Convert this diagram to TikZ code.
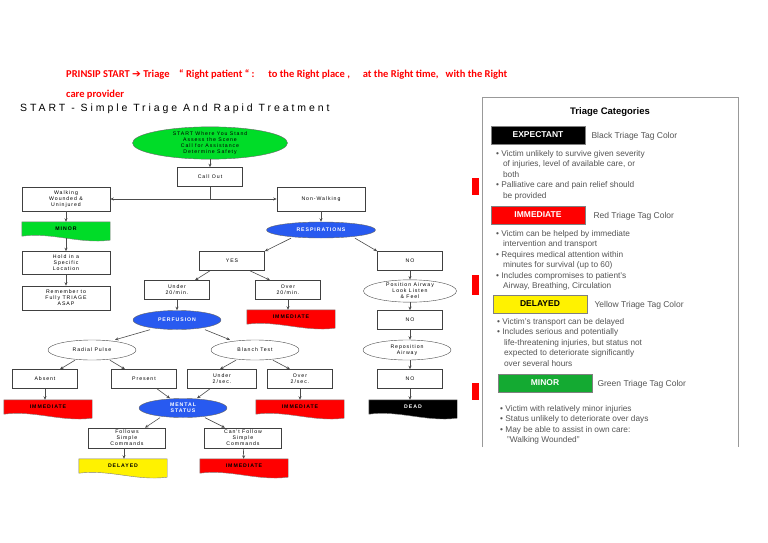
\documentclass[tikz,border=0pt]{standalone}
\usepackage{fontspec}
\setmainfont{Liberation Sans}
\newfontfamily\flow[LetterSpace=18]{Liberation Sans}
\newfontfamily\ttl[LetterSpace=28]{Liberation Sans}
\newfontfamily\hdr{Carlito}
\newfontfamily\dju{DejaVu Sans}
\usetikzlibrary{arrows.meta,calc,shapes.geometric}
\definecolor{bgreen}{RGB}{0,220,40}
\definecolor{bblue}{RGB}{40,90,240}
\definecolor{tgreen}{RGB}{20,170,50}
\definecolor{ptxt}{RGB}{85,85,85}
\tikzset{
 fbox/.style={draw=black!75,fill=white,minimum width=65pt,minimum height=19pt,inner sep=1pt,align=center,font=\flow\fontsize{5.2}{6}\selectfont,line width=0.6pt},
 fell/.style={draw=black!70,ellipse,fill=white,minimum width=88pt,minimum height=20pt,inner sep=0pt,align=center,font=\flow\fontsize{5.2}{6}\selectfont},
 bell/.style={draw=black!60,ellipse,fill=bblue,text=white,minimum width=88pt,minimum height=19pt,inner sep=0pt,align=center,font=\flow\bfseries\fontsize{5.2}{6}\selectfont},
 bannbox/.style={minimum width=88pt,minimum height=16pt,inner sep=0pt},
 bantxt/.style={font=\flow\bfseries\fontsize{5.2}{6}\selectfont},
 arr/.style={-{Stealth[length=3.5pt,width=3pt]},draw=black!70,line width=0.6pt},
 ln/.style={draw=black!70,line width=0.6pt},
 tag/.style={draw=black!50,minimum width=94pt,minimum height=18pt,inner sep=0pt,font=\bfseries\fontsize{8.5}{9}\selectfont},
 tagc/.style={anchor=west,text=ptxt,font=\fontsize{8.5}{10}\selectfont},
 bul/.style={anchor=north west,text=ptxt,align=left,inner sep=0pt,font=\fontsize{8.3}{10.5}\selectfont},
}
\newcommand{\banner}[5]{%
 \node[bannbox] (#1) at (#2) {};
 \filldraw[fill=#3,draw=black!50] (#1.north west) -- (#1.north east) -- ([yshift=-2pt]#1.south east)
   .. controls ($(#1.south east)!0.35!(#1.south west)+(0,6)$) and ($(#1.south east)!0.65!(#1.south west)+(0,-6)$) .. ([yshift=2pt]#1.south west) -- cycle;
 \node[bantxt,text=#4] (#1-t) at ([yshift=1pt]#1.center) {#5};}
\begin{document}
\begin{tikzpicture}[x=1pt,y=-1pt]
\useasboundingbox[fill=white] (0,0) rectangle (768,543);
% header
\node[anchor=west,text=red,font=\hdr\bfseries\fontsize{10.5}{12}\selectfont,inner sep=0pt] (h1) at (66,75) {PRINSIP START {\dju ➔} Triage ~ \ “ Right patient “ : \quad to the Right place , \quad at the Right time, \ \ with the Right};
\node[anchor=west,text=red,font=\hdr\bfseries\fontsize{10.5}{12}\selectfont,inner sep=0pt] (h2) at (66,95) {care provider};
\node[anchor=west,inner sep=0pt,font=\ttl\fontsize{10.5}{12}\selectfont] (title) at (20,109) {START - Simple Triage And Rapid Treatment};
% flowchart
\node[draw=black!60,ellipse,fill=bgreen,minimum width=155pt,minimum height=30pt,inner sep=0pt,align=center,font=\flow\fontsize{5.2}{6}\selectfont] (start) at (210,143) {START Where You Stand\\Assess the Scene\\Call for Assistance\\Determine Safety};
\node[fbox] (call) at (210,177) {Call Out};
\node[fbox,minimum width=88pt,minimum height=24pt] (walk) at (66,199) {Walking\\Wounded \&\\Uninjured};
\node[fbox,minimum width=88pt,minimum height=24pt] (nonw) at (321,199) {Non-Walking};
\banner{minor}{66,230}{bgreen}{black}{MINOR}
\node[bell,minimum width=109pt,minimum height=16pt] (resp) at (321,230) {RESPIRATIONS};
\node[fbox,minimum width=88pt,minimum height=23pt] (hold) at (66,263) {Hold in a\\Specific\\Location};
\node[fbox] (yes) at (232,261) {YES};
\node[fbox] (no1) at (410,261) {NO};
\node[fbox,minimum width=88pt,minimum height=24pt] (rem) at (66,298) {Remember to\\Fully TRIAGE\\ASAP};
\node[fbox] (u20) at (177,290) {Under\\20/min.};
\node[fbox] (o20) at (288,290) {Over\\20/min.};
\node[fell,minimum width=93pt] (pos) at (410,291) {Position Airway\\Look Listen\\\& Feel};
\node[bell] (perf) at (177,320) {PERFUSION};
\banner{imm1}{291,318}{red}{black}{IMMEDIATE}
\node[fbox] (no2) at (410,320) {NO};
\node[fell] (radial) at (92,350) {Radial Pulse};
\node[fell] (blanch) at (255,350) {Blanch Test};
\node[fell] (repos) at (407,350) {Reposition\\Airway};
\node[fbox] (absent) at (45,379) {Absent};
\node[fbox] (present) at (144,379) {Present};
\node[fbox,minimum width=69pt] (u2) at (222,379) {Under\\2/sec.};
\node[fbox] (o2) at (300,379) {Over\\2/sec.};
\node[fbox] (no3) at (410,379) {NO};
\banner{imm2}{48,408}{red}{black}{IMMEDIATE}
\node[bell] (mental) at (183,408) {MENTAL\\STATUS};
\banner{imm3}{300,408}{red}{black}{IMMEDIATE}
\banner{dead}{413,408}{black}{white}{DEAD}
\node[fbox,minimum width=77pt,minimum height=20pt] (follow) at (127,438) {Follows\\Simple\\Commands};
\node[fbox,minimum width=77pt,minimum height=20pt] (cant) at (243,438) {Can't Follow\\Simple\\Commands};
\banner{delayed}{123,467}{yellow}{black}{DELAYED}
\banner{imm4}{244,467}{red}{black}{IMMEDIATE}
% connectors
\draw[arr] (start) -- (call);
\coordinate (split) at (call.south |- walk.east);
\draw[ln] (call.south) -- (split);
\draw[arr] (split) -- (walk.east);
\draw[arr] (split) -- (nonw.west);
\draw[arr] (walk) -- (minor);
\draw[arr] (minor) -- (hold);
\draw[arr] (hold) -- (rem);
\draw[arr] (nonw) -- (resp);
\draw[arr] ([xshift=-30pt]resp.south) -- (yes.north east);
\draw[arr] ([xshift=34pt]resp.south) -- (no1.north west);
\draw[arr] ([xshift=-22pt]yes.south) -- ([xshift=18pt]u20.north);
\draw[arr] ([xshift=18pt]yes.south) -- ([xshift=-18pt]o20.north);
\draw[arr] (no1) -- (pos);
\draw[arr] (u20) -- (perf);
\draw[arr] (o20.south) -- ([xshift=-3pt]imm1.north);
\draw[arr] (pos) -- (no2);
\draw[arr] (no2) -- (repos.north -| no2);
\draw[arr] (repos.south -| no3) -- (no3);
\draw[arr] (no3) -- ([xshift=-3pt]dead.north);
\draw[arr] ([xshift=-27pt]perf.south) -- ([xshift=23pt]radial.north);
\draw[arr] ([xshift=28pt]perf.south) -- ([xshift=-25pt]blanch.north);
\draw[arr] ([xshift=-17pt]radial.south) -- ([xshift=15pt]absent.north);
\draw[arr] ([xshift=18pt]radial.south) -- ([xshift=-19pt]present.north);
\draw[arr] ([xshift=-19pt]blanch.south) -- ([xshift=-2pt]u2.north);
\draw[arr] ([xshift=18pt]blanch.south) -- ([xshift=-10pt]o2.north);
\draw[arr] (absent) -- ([xshift=-3pt]imm2.north);
\draw[arr] ([xshift=13pt]present.south) -- ([xshift=-13pt]mental.north);
\draw[arr] ([xshift=-12pt]u2.south) -- ([xshift=14pt]mental.north);
\draw[arr] (o2) -- (imm3);
\draw[arr] ([xshift=-23pt]mental.south) -- ([xshift=18pt]follow.north);
\draw[arr] ([xshift=22pt]mental.south) -- ([xshift=-18pt]cant.north);
\draw[arr] ([xshift=-3pt]follow.south) -- ([xshift=1pt]delayed.north);
\draw[arr] (cant) -- (imm4);
% red markers
\fill[red] (472,178) rectangle (479,195);
\fill[red] (472,275) rectangle (479,295);
\fill[red] (472,383) rectangle (479,400);
% panel
\draw[black!40,line width=0.6pt] (482,447) -- (482,97) -- (738,97) -- (738,447);
\node[font=\bfseries\fontsize{9.5}{11}\selectfont] (pt) at (610,112) {Triage Categories};
\node[tag,fill=black,text=white] (texp) at (538,135) {EXPECTANT};
\node[tagc] (cexp) at (588,136) {Black Triage Tag Color};
\node[bul] (bexp) at (496,150) {\textbullet\ Victim unlikely to survive given severity\\\ \ \ of injuries, level of available care, or\\\ \ \ both\\\textbullet\ Palliative care and pain relief should\\\ \ \ be provided};
\node[tag,fill=red,text=white] (timm) at (538,215) {IMMEDIATE};
\node[tagc] (cimm) at (590,216) {Red Triage Tag Color};
\node[bul] (bimm) at (496,230) {\textbullet\ Victim can be helped by immediate\\\ \ \ intervention and transport\\\textbullet\ Requires medical attention within\\\ \ \ minutes for survival (up to 60)\\\textbullet\ Includes compromises to patient's\\\ \ \ Airway, Breathing, Circulation};
\node[tag,fill=yellow,text=black] (tdel) at (540,304) {DELAYED};
\node[tagc] (cdel) at (591,305) {Yellow Triage Tag Color};
\node[bul] (bdel) at (497,318) {\textbullet\ Victim's transport can be delayed\\\textbullet\ Includes serious and potentially\\\ \ \ life-threatening injuries, but status not\\\ \ \ expected to deteriorate significantly\\\ \ \ over several hours};
\node[tag,fill=tgreen,text=white] (tmin) at (545,383) {MINOR};
\node[tagc] (cmin) at (594,384) {Green Triage Tag Color};
\node[bul] (bmin) at (500,405) {\textbullet\ Victim with relatively minor injuries\\\textbullet\ Status unlikely to deteriorate over days\\\textbullet\ May be able to assist in own care:\\\ \ \ "Walking Wounded"};
\end{tikzpicture}
\end{document}
